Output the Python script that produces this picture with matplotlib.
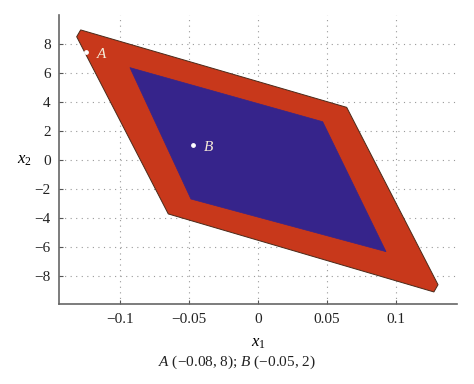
import matplotlib
matplotlib.use("Agg")
import matplotlib.pyplot as plt
from matplotlib.patches import Polygon

plt.rcParams['font.family'] = ['Liberation Serif', 'DejaVu Serif']
plt.rcParams['mathtext.fontset'] = 'custom'
plt.rcParams['mathtext.it'] = 'Liberation Serif:italic'
plt.rcParams['mathtext.rm'] = 'Liberation Serif'

# Outer region vertices (x1, x2)
outer_x = [-0.1285, 0.0643, 0.1305, 0.1275, -0.0650, -0.1314]
outer_y = [8.97, 3.63, -8.60, -9.10, -3.72, 8.50]
# Inner region vertices
inner_x = [-0.0928, 0.0469, 0.0928, -0.0486]
inner_y = [6.37, 2.64, -6.32, -2.69]

# Points
pts_name = ['A', 'B']
pts_x = [-0.1246, -0.047]
pts_y = [7.43, 1.03]

x_ticks = [-0.1, -0.05, 0, 0.05, 0.1]
x_ticklabels = ['\u22120.1', '\u22120.05', '0', '0.05', '0.1']
y_ticks = [-8, -6, -4, -2, 0, 2, 4, 6, 8]
y_ticklabels = [('\u2212%d' % -v) if v < 0 else '%d' % v for v in y_ticks]

fig = plt.figure(figsize=(4.74, 3.84), dpi=100)
ax = fig.add_axes([0.1245, 0.2076, 0.8395, 0.7534])

ax.add_patch(Polygon(list(zip(outer_x, outer_y)), closed=True,
                     facecolor='#c8381b', edgecolor='#4a2a1a', linewidth=0.7, zorder=2))
ax.add_patch(Polygon(list(zip(inner_x, inner_y)), closed=True,
                     facecolor='#36248b', edgecolor='#36248b', linewidth=0.5, zorder=3))

ax.scatter(pts_x, pts_y, s=6, color='white', zorder=5)
for n, px, py in zip(pts_name, pts_x, pts_y):
    ax.annotate(n, (px, py), xytext=(8, -4), textcoords='offset points',
                color='#f5ead8', fontsize=11, style='italic', zorder=6)

ax.set_xlim(-0.1442, 0.1442)
ax.set_ylim(-9.95, 10)
ax.set_xticks(x_ticks)
ax.set_xticklabels(x_ticklabels)
ax.set_yticks(y_ticks)
ax.set_yticklabels(y_ticklabels)
ax.tick_params(direction='in', length=3, color='#555555', labelsize=11,
               labelcolor='#222222', pad=6)
ax.grid(True, linestyle=(0, (1, 4)), color='#999999', linewidth=0.8, zorder=0)
ax.set_axisbelow(True)
for s in ['top', 'right']:
    ax.spines[s].set_visible(False)
for s in ['left', 'bottom']:
    ax.spines[s].set_color('#666666')
    ax.spines[s].set_linewidth(1.2)

ax.set_ylabel('$x_2$', rotation=0, fontsize=12, labelpad=7, va='center')
ax.set_xlabel('$x_1$', fontsize=12, labelpad=7)
fig.text(0.5, 0.048, '$A$ (\u22120.08, 8); $B$ (\u22120.05, 2)', ha='center',
         fontsize=11, color='#222222')

fig.savefig('out.png', dpi=100)
